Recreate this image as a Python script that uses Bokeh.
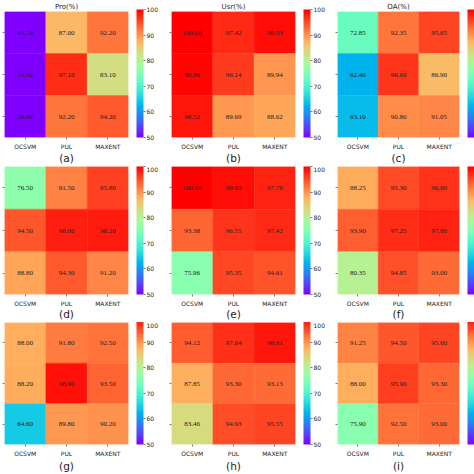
import math
from bokeh.embed import file_html
from bokeh.layouts import column, row
from bokeh.models import ColorBar, ColumnDataSource, FactorRange, FixedTicker, LinearColorMapper, Range1d
from bokeh.plotting import figure
from bokeh.resources import INLINE

methods = ["OCSVM", "PUL", "MAXENT"]
panel_labels = ["(a)", "(b)", "(c)", "(d)", "(e)", "(f)", "(g)", "(h)", "(i)"]
titles = ["Pro(%)", "Usr(%)", "OA(%)"]

a_vals = [[45.70, 87.00, 92.20], [24.90, 97.10, 83.10], [28.60, 92.20, 94.20]]
b_vals = [[100.00, 97.42, 99.03], [99.60, 96.14, 89.94], [98.52, 89.69, 88.62]]
c_vals = [[72.85, 92.35, 95.65], [62.40, 96.60, 86.90], [63.10, 90.80, 91.05]]
d_vals = [[76.50, 91.50, 95.80], [94.50, 98.00, 98.20], [88.80, 94.30, 91.20]]
e_vals = [[100.00, 99.03, 97.76], [93.38, 96.55, 97.42], [75.96, 95.35, 94.61]]
f_vals = [[88.25, 95.30, 96.80], [93.90, 97.25, 97.80], [80.35, 94.85, 93.00]]
g_vals = [[88.00, 91.80, 92.50], [88.20, 98.90, 93.50], [64.60, 89.80, 90.20]]
h_vals = [[94.12, 97.04, 98.61], [87.85, 93.30, 93.13], [83.46, 94.93, 95.55]]
i_vals = [[91.25, 94.50, 95.60], [88.00, 95.90, 93.30], [75.90, 92.50, 93.00]]
panels = [a_vals, b_vals, c_vals, d_vals, e_vals, f_vals, g_vals, h_vals, i_vals]

cbar_ticks = [50, 60, 70, 80, 90, 100]


def rainbow(n=256):
    out = []
    for k in range(n):
        t = k / (n - 1)
        r = min(1, abs(2 * t - 0.5))
        g = math.sin(math.pi * t)
        b = math.cos(math.pi * t / 2)
        out.append("#%02x%02x%02x" % (round(r * 255), round(g * 255), round(b * 255)))
    return out


palette = rainbow()
TXT = "#222222"
FONT = "DejaVu Sans"

col_w = [166, 166, 142]
col_left = [4, 5, 5]
row_h = [166, 156, 152]
row_top = [10, 0, 0]
label_standoff = [-1, -2, 0]
FRAME_W, FRAME_H = 124, 128


def make(idx):
    r, c = divmod(idx, 3)
    vals = panels[idx]
    mapper = LinearColorMapper(palette=palette, low=50, high=100)
    xs, ys, vs, ts = [], [], [], []
    for j, line in enumerate(vals):
        for m, v in zip(methods, line):
            xs.append(m)
            ys.append(j + 0.5)
            vs.append(v)
            ts.append(f"{v:.2f}")
    src = ColumnDataSource(dict(x=xs, y=ys, v=vs, t=ts))
    p = figure(
        width=col_w[c], height=row_h[r],
        x_range=FactorRange(factors=methods, range_padding=0),
        y_range=Range1d(3, 0),
        toolbar_location=None, output_backend="svg",
        min_border_left=col_left[c], min_border_top=row_top[r],
        min_border_right=col_w[c] - col_left[c] - FRAME_W,
        min_border_bottom=row_h[r] - row_top[r] - FRAME_H,
        outline_line_color=None, background_fill_color=None, border_fill_color=None,
    )
    p.grid.visible = False
    p.rect("x", "y", width=1, height=1, source=src,
           fill_color={"field": "v", "transform": mapper},
           line_color={"field": "v", "transform": mapper}, line_width=0.4)
    p.text("x", "y", text="t", source=src, text_align="center", text_baseline="middle",
           text_font_size="7px", text_color=TXT, text_font=FONT)
    if r == 0:
        p.title.text = titles[c]
        p.title.text_font_size = "7px"
        p.title.text_font_style = "normal"
        p.title.text_font = FONT
        p.title.text_color = TXT
        p.title.align = "center"
        p.title.standoff = 1
        p.title.offset = 0
        p.title_location = "above"

    ax = p.xaxis[0]
    ax.axis_line_color = None
    ax.major_tick_line_color = TXT
    ax.major_tick_line_width = 0.6
    ax.major_tick_out = 2
    ax.major_tick_in = 0
    ax.major_label_text_font_size = "6px"
    ax.major_label_text_font = FONT
    ax.major_label_text_color = TXT
    ax.major_label_standoff = 3
    ax.major_label_orientation = "horizontal"
    ax.axis_label = panel_labels[idx]
    ax.axis_label_text_font_size = "10.5px"
    ax.axis_label_text_font_style = "normal"
    ax.axis_label_text_font = FONT
    ax.axis_label_text_color = TXT
    ax.axis_label_standoff = label_standoff[r]

    ay = p.yaxis[0]
    ay.ticker = FixedTicker(ticks=[0.5, 1.5, 2.5])
    ay.major_label_overrides = {0.5: "", 1.5: "", 2.5: ""}
    ay.axis_line_color = None
    ay.major_tick_line_color = TXT
    ay.major_tick_line_width = 0.6
    ay.major_tick_out = 2
    ay.major_tick_in = 0
    ay.major_label_standoff = 0
    ay.major_label_text_font_size = "1px"

    cb = ColorBar(
        color_mapper=mapper, width=7, height=FRAME_H, padding=0, margin=0,
        location=(8, 0),
        ticker=FixedTicker(ticks=cbar_ticks if c < 2 else []),
        major_label_text_font_size="6px", major_label_text_font=FONT,
        major_label_text_color=TXT, label_standoff=1,
        major_tick_line_color=TXT, major_tick_line_width=0.6,
        major_tick_in=0, major_tick_out=2,
        minor_tick_line_color=None, bar_line_color=None, border_line_color=None,
        background_fill_color=None,
    )
    p.add_layout(cb, "right")
    return p


figs = [make(i) for i in range(9)]
grid = column(
    row(figs[0], figs[1], figs[2], spacing=0),
    row(figs[3], figs[4], figs[5], spacing=0),
    row(figs[6], figs[7], figs[8], spacing=0),
    spacing=0,
)
open("out.html", "w").write(file_html(grid, INLINE))
